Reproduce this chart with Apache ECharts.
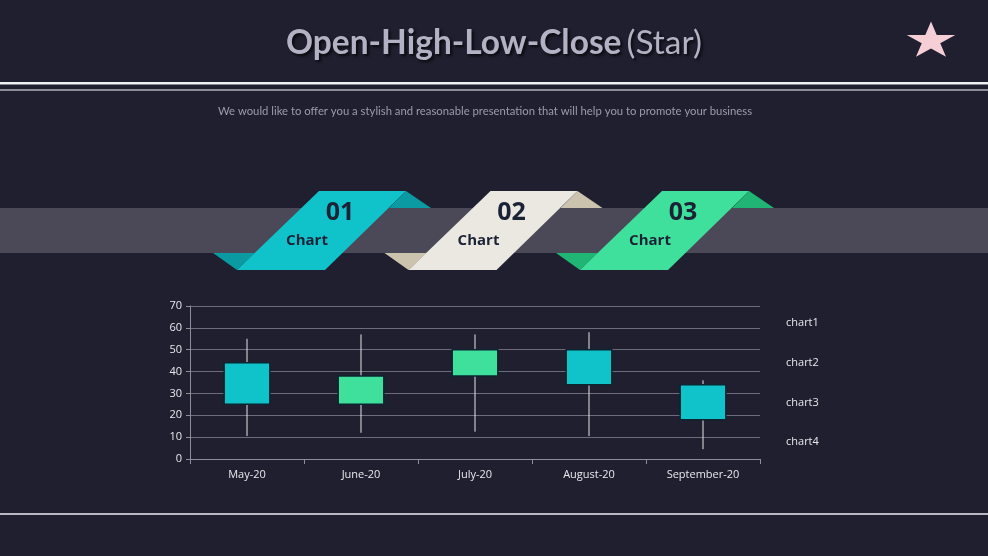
<!DOCTYPE html>
<html>
<head>
<meta charset="utf-8">
<script src="https://cdn.jsdelivr.net/npm/echarts@6/dist/echarts.min.js"></script>
<style>
html, body { margin: 0; padding: 0; background: #1f1f2f; }
#main { width: 988px; height: 556px; }
</style>
</head>
<body>
<div id="main"></div>
<script>
// chart values
var months = ['May-20', 'June-20', 'July-20', 'August-20', 'September-20'];
var openVals  = [44, 25, 38, 50, 34];
var closeVals = [25, 38, 50, 34, 18];
var lowVals   = [10.5, 12, 12.5, 10.5, 4.5];
var highVals  = [55, 57, 57, 58, 36];
var legendNames = ['chart1', 'chart2', 'chart3', 'chart4'];
var ribbonNums = ['01', '02', '03'];
var ribbonLabel = 'Chart';

var upColor = '#3fe09c';
var downColor = '#10c3cb';
var ribbonColors = [
	{ face: '#10c3cb', fold: '#0b9aa1' },
	{ face: '#ebe8e1', fold: '#cbc3ae' },
	{ face: '#3fe09c', fold: '#20b574' }
];

var ohlc = [];
for (var i = 0; i < months.length; i++) {
	ohlc.push([i, openVals[i], closeVals[i], lowVals[i], highVals[i]]);
}

function renderCandle(params, api) {
	var x = api.value(0);
	var o = api.coord([x, api.value(1)]);
	var c = api.coord([x, api.value(2)]);
	var lo = api.coord([x, api.value(3)]);
	var hi = api.coord([x, api.value(4)]);
	var w = api.size([1, 0])[0] * 0.4;
	var up = api.value(2) >= api.value(1);
	return {
		type: 'group',
		children: [
			{ type: 'line', shape: { x1: lo[0], y1: lo[1], x2: hi[0], y2: hi[1] },
			  style: { stroke: '#e6e6ec', lineWidth: 1 } },
			{ type: 'rect', shape: { x: o[0] - w / 2, y: Math.min(o[1], c[1]), width: w, height: Math.abs(o[1] - c[1]) },
			  style: { fill: up ? upColor : downColor, stroke: '#0c2530', lineWidth: 1.5 } }
		]
	};
}

// decorations
var graphics = [];
graphics.push({ type: 'rect', shape: { x: 0, y: 82, width: 988, height: 2.5 }, style: { fill: '#f2f2f6' } });
graphics.push({ type: 'rect', shape: { x: 0, y: 89, width: 988, height: 2 }, style: { fill: '#8c8c98' } });
graphics.push({ type: 'rect', shape: { x: 0, y: 513, width: 988, height: 2 }, style: { fill: '#b9b9c4' } });

// star
var starPts = [];
for (var k = 0; k < 10; k++) {
	var ang = -Math.PI / 2 + k * Math.PI / 5;
	var r = (k % 2 === 0) ? 1 : 0.382;
	starPts.push([931 + Math.cos(ang) * 25.5 * r, 41 + Math.sin(ang) * 19.4 * r]);
}
graphics.push({ type: 'polygon', shape: { points: starPts }, style: { fill: '#f6cfd6' } });

// ribbons: folds, band, faces
for (var j = 0; j < 3; j++) {
	var dx = j * 171.5;
	graphics.push({ type: 'polygon', shape: { points: [[406 + dx, 191], [431 + dx, 208], [389 + dx, 208]] }, style: { fill: ribbonColors[j].fold } });
	graphics.push({ type: 'polygon', shape: { points: [[213 + dx, 253], [255 + dx, 253], [237 + dx, 270]] }, style: { fill: ribbonColors[j].fold } });
}
graphics.push({ type: 'rect', shape: { x: 0, y: 208, width: 988, height: 45 }, style: { fill: '#4b4858' } });
for (var j = 0; j < 3; j++) {
	var dx = j * 171.5;
	graphics.push({ type: 'polygon', shape: { points: [[319 + dx, 191], [406 + dx, 191], [325 + dx, 270], [237 + dx, 270]] }, style: { fill: ribbonColors[j].face } });
	graphics.push({ type: 'text', x: 340 + dx, y: 213, style: { text: ribbonNums[j], fill: '#1c2236', font: 'bold 25px "Open Sans"', align: 'center', verticalAlign: 'middle' } });
	graphics.push({ type: 'text', x: 307 + dx, y: 241, style: { text: ribbonLabel, fill: '#1c2236', font: 'bold 15px "Open Sans"', align: 'center', verticalAlign: 'middle' } });
}

// legend texts
for (var n = 0; n < legendNames.length; n++) {
	graphics.push({ type: 'text', x: 786, y: 323 + n * 39.7, style: { text: legendNames[n], fill: '#e8e8ee', font: '11px "Open Sans"', verticalAlign: 'middle' } });
}

var option = {
	backgroundColor: '#1f1f2f',
	title: [
		{
			text: '{b|Open-High-Low-Close} {n|(Star)}',
			left: 'center',
			top: 21,
			textStyle: {
				rich: {
					b: { fontFamily: 'Lato', fontWeight: 'bold', fontSize: 33.5, color: '#b3b1c3',
						textShadowColor: 'rgba(0,0,0,0.7)', textShadowOffsetX: 2, textShadowOffsetY: 2, textShadowBlur: 3 },
					n: { fontFamily: 'Lato', fontWeight: 'normal', fontSize: 33.5, color: '#b3b1c3',
						textShadowColor: 'rgba(0,0,0,0.7)', textShadowOffsetX: 2, textShadowOffsetY: 2, textShadowBlur: 3 }
				}
			}
		},
		{
			text: 'We would like to offer you a stylish and reasonable presentation that will help you to promote your business',
			left: 213,
			top: 101,
			textStyle: { fontFamily: 'Lato', fontWeight: 'normal', fontSize: 11.3, color: '#9d9baf' }
		}
	],
	grid: { left: 190, right: 228, top: 306, bottom: 97 },
	xAxis: {
		type: 'category',
		data: months,
		boundaryGap: true,
		axisLine: { lineStyle: { color: '#8e8e9a', width: 1 } },
		axisTick: { show: true, length: 5, lineStyle: { color: '#8e8e9a' } },
		axisLabel: { color: '#e8e8ee', fontSize: 11, fontFamily: 'Open Sans', margin: 10 }
	},
	yAxis: {
		type: 'value',
		min: 0,
		max: 70,
		interval: 10,
		axisLine: { show: true, lineStyle: { color: '#8e8e9a', width: 1 } },
		axisTick: { show: true, length: 4, lineStyle: { color: '#8e8e9a' } },
		axisLabel: { color: '#e8e8ee', fontSize: 11, fontFamily: 'Open Sans', margin: 8 },
		splitLine: { show: true, lineStyle: { color: '#6c6c7a', width: 1 } }
	},
	series: [
		{
			name: 'OHLC',
			type: 'custom',
			renderItem: renderCandle,
			encode: { x: 0, y: [1, 2, 3, 4] },
			data: ohlc
		}
	],
	graphic: graphics
};

var myChart = echarts.init(document.getElementById('main'));
myChart.setOption(option);
</script>
</body>
</html>
